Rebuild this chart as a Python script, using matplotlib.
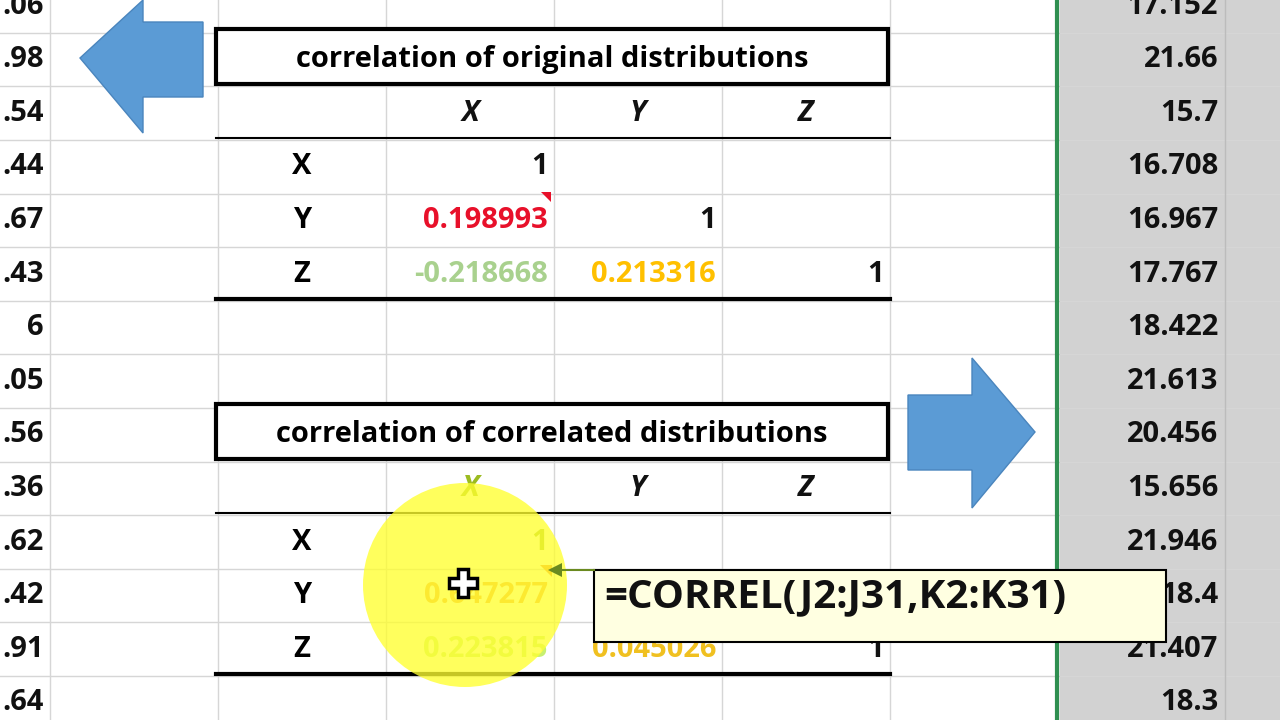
import matplotlib
matplotlib.use("Agg")
import matplotlib.pyplot as plt
from matplotlib.patches import Rectangle, Polygon, Circle

left_vals = [".06", ".98", ".54", ".44", ".67", ".43", "6", ".05", ".56", ".36", ".62", ".42", ".91", ".64"]
right_vals = ["17.152", "21.66", "15.7", "16.708", "16.967", "17.767", "18.422", "21.613",
              "20.456", "15.656", "21.946", "18.4", "21.407", "18.3"]
vars_ = ["X", "Y", "Z"]
title1 = "correlation of original distributions"
title2 = "correlation of correlated distributions"
orig = [["1", "", ""], ["0.198993", "1", ""], ["-0.218668", "0.213316", "1"]]
orig_col = [["#111111", None, None], ["#e8102a", "#111111", None], ["#a9d18e", "#ffc000", "#111111"]]
corr = [["1", "", ""], ["0.647277", "1", ""], ["0.223815", "0.045026", "1"]]
corr_col = [["#9bbb20", None, None], ["#f4a030", "#111111", None], ["#c8f070", "#f0c020", "#111111"]]
formula = "=CORREL(J2:J31,K2:K31)"

W, H = 1280, 720
fig = plt.figure(figsize=(12.8, 7.2), dpi=100)
ax = fig.add_axes([0, 0, 1, 1])
ax.set_xlim(0, W); ax.set_ylim(H, 0); ax.axis("off")
plt.rcParams['font.family'] = ['Open Sans', 'DejaVu Sans']
FS = 21

row0 = 6.0; rh = 53.6
cols = [50, 218, 386, 554, 722, 890, 1058, 1225]
def rc(i): return row0 + i * rh

ax.add_patch(Rectangle((0, 0), W, H, color="white", zorder=0))
ax.add_patch(Rectangle((1060, 0), 220, H, color="#d2d2d2", zorder=0.5))
for i in range(15):
    y = rc(i) - rh / 2
    ax.plot([0, W], [y, y], color="#d6d6d6", lw=1, zorder=1)
for x in cols:
    ax.plot([x, x], [0, H], color="#d6d6d6" if x < 1058 else "#bcbcbc", lw=1, zorder=1)
ax.plot([1057, 1057], [0, H], color="#2f8f50", lw=3, zorder=5)

for i, (lv, rv) in enumerate(zip(left_vals, right_vals)):
    ax.text(44, rc(i), lv, ha="right", va="center", fontsize=FS, weight="bold", color="#111", zorder=3)
    ax.text(1218, rc(i), rv, ha="right", va="center", fontsize=FS, weight="bold", color="#111", zorder=3)

def block(top_row, title, vals, colors, hdrcol):
    yt = rc(top_row)
    ax.add_patch(Rectangle((216, yt - 31), 672, 55, fc="white", ec="black", lw=3, zorder=4))
    ax.text(552, yt, title, ha="center", va="center", fontsize=FS, weight="bold", zorder=5)
    yh = rc(top_row + 1)
    for j, v in enumerate(vars_):
        ax.text((cols[j + 2] + cols[j + 3]) / 2, yh, v, ha="center", va="center", fontsize=FS,
                style="italic", weight="bold", color=hdrcol[j], zorder=3)
    ax.plot([216, 890], [yh + rh / 2 - 2, yh + rh / 2 - 2], color="black", lw=1.5, zorder=4)
    for r in range(3):
        y = rc(top_row + 2 + r)
        ax.text(302, y, vars_[r], ha="center", va="center", fontsize=FS, weight="bold", zorder=3)
        for c in range(3):
            if vals[r][c]:
                ax.text(cols[c + 3] - 6, y, vals[r][c], ha="right", va="center", fontsize=FS,
                        weight="bold", color=colors[r][c], zorder=3)
    yb = rc(top_row + 4) + rh / 2 - 2
    ax.plot([216, 890], [yb, yb], color="black", lw=3, zorder=4)

block(1, title1, orig, orig_col, ["#111", "#111", "#111"])
block(8, title2, corr, corr_col, ["#9bbb20", "#111", "#111"])

# arrows
ax.add_patch(Polygon([(80, 58), (143, 0), (143, 22), (203, 22), (203, 97), (143, 97), (143, 133)],
                     fc="#5b9bd5", ec="#4a85bd", lw=1, zorder=6))
ax.add_patch(Polygon([(1035, 432), (972, 358), (972, 395), (908, 395), (908, 470), (972, 470), (972, 508)],
                     fc="#5b9bd5", ec="#4a85bd", lw=1, zorder=6))
# comment markers
ax.add_patch(Polygon([(541, 192), (551, 192), (551, 202)], fc="#e8102a", zorder=6))
ax.add_patch(Polygon([(540, 565), (552, 565), (552, 577)], fc="#f08020", zorder=6))
# highlight circle
ax.add_patch(Circle((465, 585), 102, fc="#ffff30", alpha=0.78, ec="none", zorder=7))
# tooltip
ax.add_patch(Rectangle((594, 570), 572, 72, fc="#ffffe1", ec="black", lw=1.5, zorder=8))
ax.plot([552, 594], [570, 570], color="#6a8a20", lw=1.5, zorder=8)
ax.add_patch(Polygon([(548, 570), (562, 563), (562, 577)], fc="#6a8a20", zorder=8))
ax.text(604, 597, formula, ha="left", va="center", fontsize=29, weight="bold", color="#111", zorder=9)
# cursor
cx, cy = 463, 583
ax.add_patch(Polygon([(cx-5, cy-14), (cx+5, cy-14), (cx+5, cy-5), (cx+14, cy-5), (cx+14, cy+5), (cx+5, cy+5),
                      (cx+5, cy+14), (cx-5, cy+14), (cx-5, cy+5), (cx-14, cy+5), (cx-14, cy-5), (cx-5, cy-5)],
                     fc="white", ec="black", lw=2.5, zorder=10))

fig.savefig("out.png", dpi=100)
